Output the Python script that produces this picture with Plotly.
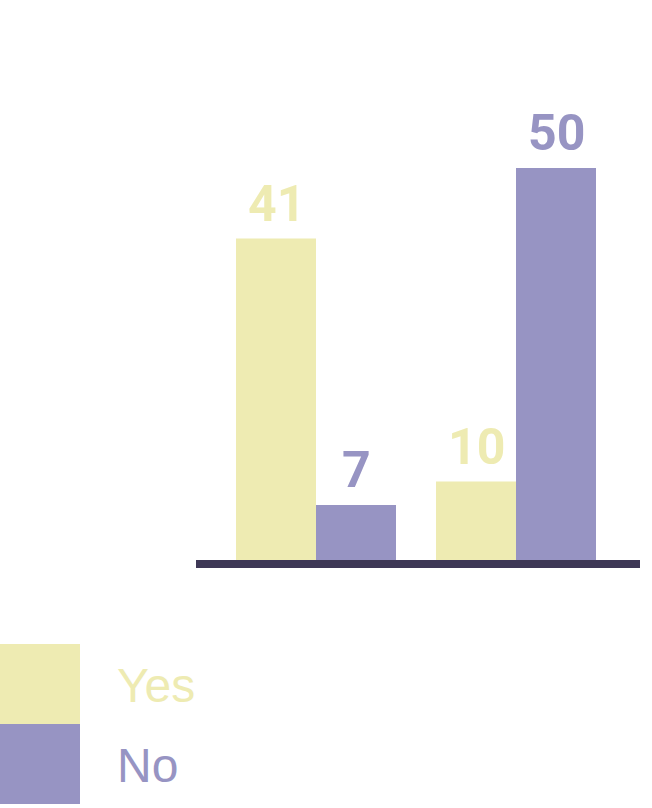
import plotly.graph_objects as go

categories = ["Group 1", "Group 2"]
series_names = ["Yes", "No"]
yes_values = [41, 10]
no_values = [7, 50]
series_values = [yes_values, no_values]
colors = ["#EEEBB2", "#9794C3"]
axis_color = "#3E3856"

W, H = 652, 808
L, R, T, B = 196, 12, 100, 248
plot_w = W - L - R
plot_h = H - T - B
px_per_unit = 7.84

fig = go.Figure()
for name, vals, col in zip(series_names, series_values, colors):
    fig.add_trace(go.Bar(x=categories, y=vals, name=name, marker=dict(color=col, line=dict(width=0)),
                         showlegend=False, hoverinfo="skip"))

annotations = []
shift = [-40, 40]
for si, (vals, col) in enumerate(zip(series_values, colors)):
    for ci, v in enumerate(vals):
        annotations.append(dict(x=categories[ci], y=v, xref="x", yref="y", text=str(v),
                                showarrow=False, xanchor="center", yanchor="bottom",
                                xshift=shift[si], yshift=4,
                                font=dict(family="Roboto", size=50, color=col, weight="bold")))

# legend drawn as large swatches
shapes = []
sw = 80
leg_top = 644
for i, (name, col) in enumerate(zip(series_names, colors)):
    y0 = leg_top + i * sw
    y1 = y0 + sw
    shapes.append(dict(type="rect", xref="paper", yref="paper",
                       x0=(0 - L) / plot_w, x1=(sw - L) / plot_w,
                       y0=(H - B - y1) / plot_h, y1=(H - B - y0) / plot_h,
                       fillcolor=col, line=dict(width=0), layer="above"))
    annotations.append(dict(x=(115 - L) / plot_w, y=(H - B - (y0 + sw / 2 + 1)) / plot_h,
                            xref="paper", yref="paper", text=name, showarrow=False,
                            xanchor="left", yanchor="middle",
                            font=dict(family="Liberation Sans", size=48, color=col)))

fig.update_layout(
    width=W, height=H,
    margin=dict(l=L, r=R, t=T, b=B),
    paper_bgcolor="white", plot_bgcolor="white",
    barmode="group", bargap=0.2, bargroupgap=0,
    xaxis=dict(type="category", range=[-0.6, 1.62], showticklabels=False, ticks="",
               showgrid=False, zeroline=False, showline=True, linecolor=axis_color, linewidth=8),
    yaxis=dict(range=[0, plot_h / px_per_unit], visible=False, showgrid=False, zeroline=False),
    annotations=annotations, shapes=shapes,
)

fig.write_html("out.html", config={"displayModeBar": False},
               post_script="document.body.style.margin='0';document.body.style.overflow='hidden';")
